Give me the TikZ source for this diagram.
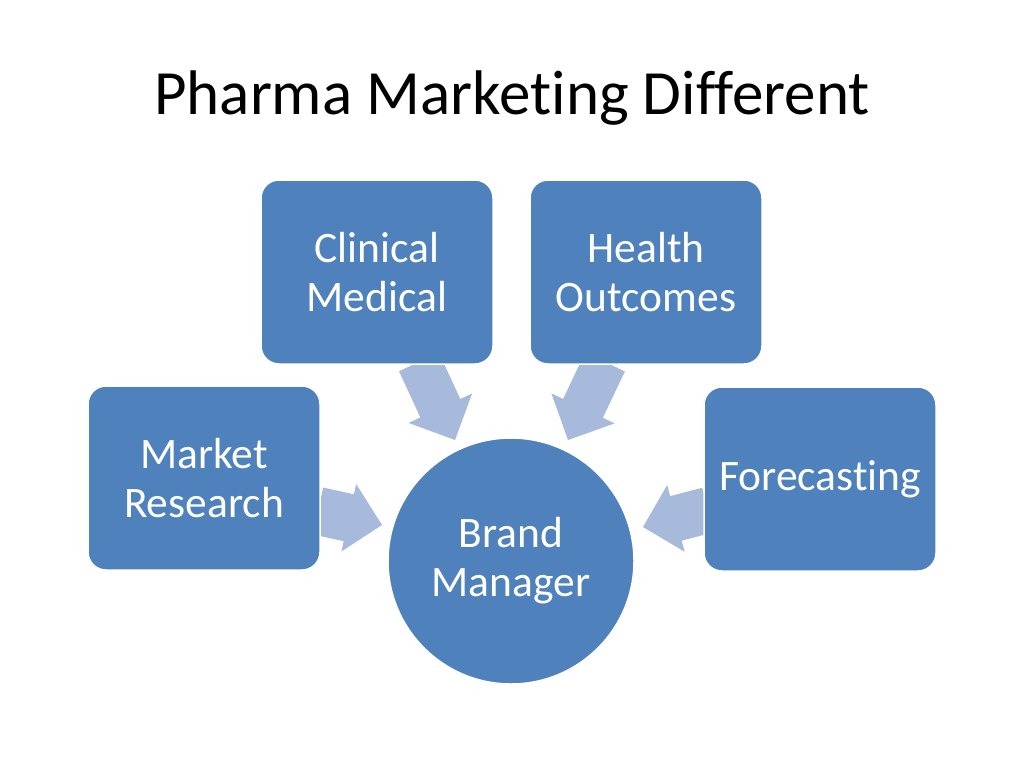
\documentclass[tikz,border=0pt]{standalone}
\usepackage{fontspec}
\setmainfont{Carlito}[RawFeature={-liga;-clig;-dlig}]
\usetikzlibrary{calc}
\definecolor{boxblue}{HTML}{4F81BD}
\definecolor{arrowblue}{HTML}{A7BADB}
\tikzset{
  box/.style={fill=boxblue, draw=white, line width=1.5pt, rounded corners=18pt,
    minimum width=232pt, minimum height=184pt, text=white,
    font=\fontsize{43.5}{49}\selectfont, align=center, inner sep=0pt},
  hub/.style={circle, fill=boxblue, draw=white, line width=1.5pt, minimum size=246pt,
    text=white, font=\fontsize{43.5}{49}\selectfont, align=center, inner sep=0pt},
  titletext/.style={font=\fontsize{63}{70}\selectfont, text=black, inner sep=0pt},
  blockfill/.style={fill=arrowblue}
}
\newcommand\blockarr[5]{%
  \coordinate (ba-h) at ($(#2)!#5!(#1)$);
  \fill[blockfill] ($(#1)!#3!90:(#2)$) -- ($(ba-h)!#3!-90:(#1)$) -- ($(ba-h)!#4!-90:(#1)$)
    -- (#2) -- ($(ba-h)!#4!90:(#1)$) -- ($(ba-h)!#3!90:(#1)$) -- ($(#1)!#3!-90:(#2)$) -- cycle;
}
\begin{document}
\begin{tikzpicture}[x=1pt,y=-1pt]
\useasboundingbox (0,0) rectangle (1024,768);
\node[titletext] (title) at (512,98) {Pharma Marketing Different};
% arrow ends
\coordinate (mrT) at (318,511);
\coordinate (mrH) at (382,525);
\coordinate (fcT) at (708,510);
\coordinate (fcH) at (643,527);
\coordinate (cmT) at (419,362);
\coordinate (cmH) at (455,440);
\coordinate (hoT) at (605,362);
\coordinate (hoH) at (568,440);
\blockarr{mrT}{mrH}{24pt}{34.5pt}{34pt}
\blockarr{fcT}{fcH}{23pt}{34.5pt}{34pt}
\blockarr{cmT}{cmH}{22pt}{35pt}{35pt}
\blockarr{hoT}{hoH}{22pt}{35pt}{35pt}
% boxes
\node[box] (cm) at (377,272) {Clinical\\Medical};
\node[box] (ho) at (646,272) {Health\\Outcomes};
\node[box] (mr) at (204,478) {Market\\Research};
\node[box] (fc) at (820,479) {Forecasting};
\node[hub] (bm) at (511,561) {Brand\\Manager};
\end{tikzpicture}
\end{document}
